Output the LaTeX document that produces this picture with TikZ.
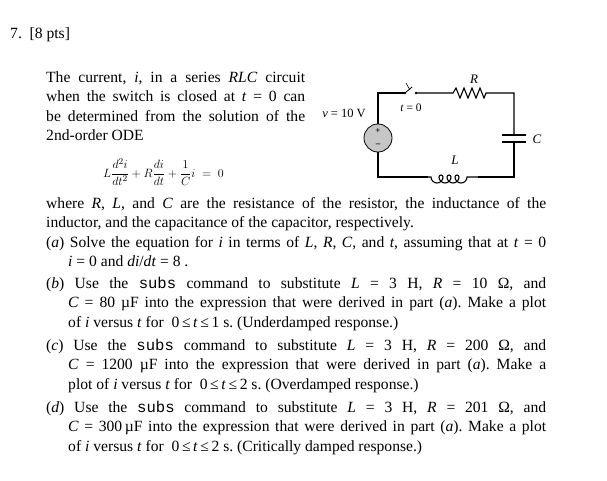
\documentclass[tikz,border=0pt]{standalone}
\usepackage{fontspec}
\setmainfont{Liberation Serif}
\setmonofont{Liberation Mono}
\begin{document}
\frenchspacing
\begin{tikzpicture}[x=1pt,y=-1pt,
  ln/.style={anchor=base west,inner sep=0pt,font=\fontsize{15.6}{18}\selectfont},
  wire/.style={line width=1.1pt}]
\useasboundingbox (0,0) rectangle (607,480);
\newcommand{\jl}[1]{\makebox[500pt][s]{#1}}
\newcommand{\jm}[1]{\makebox[478pt][s]{#1}}
\newcommand{\jp}[1]{\makebox[259pt][s]{#1}}
\node[ln] (t0) at (10,38) {7.\ \ [8 pts]};
\node[ln] (p1) at (46,82) {\jp{The current, \textit{i}, in a series \textit{RLC} circuit}};
\node[ln] (p2) at (46,101) {\jp{when the switch is closed at \textit{t} = 0 can}};
\node[ln] (p3) at (46,121) {\jp{be determined from the solution of the}};
\node[ln] (p4) at (46,140) {2nd-order ODE};
\node[ln,font=\fontsize{13}{15}\selectfont] (eq) at (103,177) {$\displaystyle L\frac{d^2i}{dt^2}+R\frac{di}{dt}+\frac{1}{C}i\;=\;0$};
\node[ln] (w1) at (46,208) {\jl{where \textit{R}, \textit{L}, and \textit{C} are the resistance of the resistor, the inductance of the}};
\node[ln] (w2) at (46,227) {inductor, and the capacitance of the capacitor, respectively.};
\node[ln] (a1) at (46,247) {\jl{(\textit{a}) Solve the equation for \textit{i} in terms of \textit{L}, \textit{R}, \textit{C}, and \textit{t}, assuming that at \textit{t} = 0}};
\node[ln] (a2) at (68,266) {\textit{i} = 0 and \textit{di}/\textit{dt} = 8 .};
\node[ln] (b1) at (46,288) {\jl{(\textit{b}) Use the \texttt{subs} command to substitute \textit{L} = 3 H, \textit{R} = 10 Ω, and}};
\node[ln] (b2) at (68,307) {\jm{\textit{C} = 80 µF into the expression that were derived in part (\textit{a}). Make a plot}};
\node[ln] (b3) at (68,327) {of \textit{i} versus \textit{t} for \ 0\,≤\,\textit{t}\,≤\,1 s. (Underdamped response.)};
\node[ln] (c1) at (46,350) {\jl{(\textit{c}) Use the \texttt{subs} command to substitute \textit{L} = 3 H, \textit{R} = 200 Ω, and}};
\node[ln] (c2) at (68,369) {\jm{\textit{C} = 1200 µF into the expression that were derived in part (\textit{a}). Make a}};
\node[ln] (c3) at (68,389) {plot of \textit{i} versus \textit{t} for \ 0\,≤\,\textit{t}\,≤\,2 s. (Overdamped response.)};
\node[ln] (d1) at (46,412) {\jl{(\textit{d}) Use the \texttt{subs} command to substitute \textit{L} = 3 H, \textit{R} = 201 Ω, and}};
\node[ln] (d2) at (68,431) {\jm{\textit{C} = 300\,µF into the expression that were derived in part (\textit{a}). Make a plot}};
\node[ln] (d3) at (68,451) {of \textit{i} versus \textit{t} for \ 0\,≤\,\textit{t}\,≤\,2 s. (Critically damped response.)};
% circuit
\node[circle,draw,line width=0.8pt,fill=gray!45,minimum size=28pt,inner sep=0pt] (src) at (378,138) {};
\node[font=\bfseries\fontsize{9}{9}\selectfont] at (378,131) {+};
\node[font=\bfseries\fontsize{9}{9}\selectfont] at (378,145) {–};
\coordinate (tl) at (378,93);
\coordinate (sa) at (405,93);
\coordinate (sb) at (416,93);
\coordinate (r1) at (453,93);
\coordinate (r2) at (490,93);
\coordinate (tr) at (514,93);
\coordinate (c1) at (514,135);
\coordinate (c2) at (514,142);
\coordinate (br) at (514,177);
\coordinate (l2) at (478,177);
\coordinate (l1) at (428,177);
\coordinate (bl) at (378,177);
\draw[wire] (src.north) -- (tl) -- (sa);
\draw[line width=0.8pt] (sa) -- (412,87);
\draw[line width=0.6pt] (406,83) -- (410,90);
\fill (sa) circle (1.3pt) (sb) circle (1.3pt);
\draw[wire] (sb) -- (r1) -- ++(3,-5) -- ++(4,10) -- ++(4,-10) -- ++(4,10) -- ++(4,-10) -- ++(4,10) -- ++(4,-10) -- ++(4,10) -- ++(2,-5) -- (r2) -- (tr) -- (c1);
\draw[wire] (502,135) -- (526,135) (502,142) -- (526,142);
\draw[wire] (c2) -- (br) -- (l2);
\draw[wire] (l1) -- (431,177) arc (180:0:6) arc (0:-180:2) arc (180:0:6) arc (0:-180:2) arc (180:0:6) arc(0:-180:2) arc (180:0:6) -- (l2);
\draw[wire] (l1) -- (bl) -- (src.south);
\node[font=\itshape\fontsize{13}{13}\selectfont] (lr) at (474,79) {R};
\node[font=\itshape\fontsize{13}{13}\selectfont] (lc) at (537,139) {C};
\node[font=\itshape\fontsize{13}{13}\selectfont] (ll) at (455,160) {L};
\node[font=\fontsize{12.5}{12}\selectfont] (lv) at (344,113) {\textit{v} = 10 V};
\node[font=\fontsize{11.5}{11}\selectfont] (lt) at (411,108) {\textit{t} = 0};
\end{tikzpicture}
\end{document}
